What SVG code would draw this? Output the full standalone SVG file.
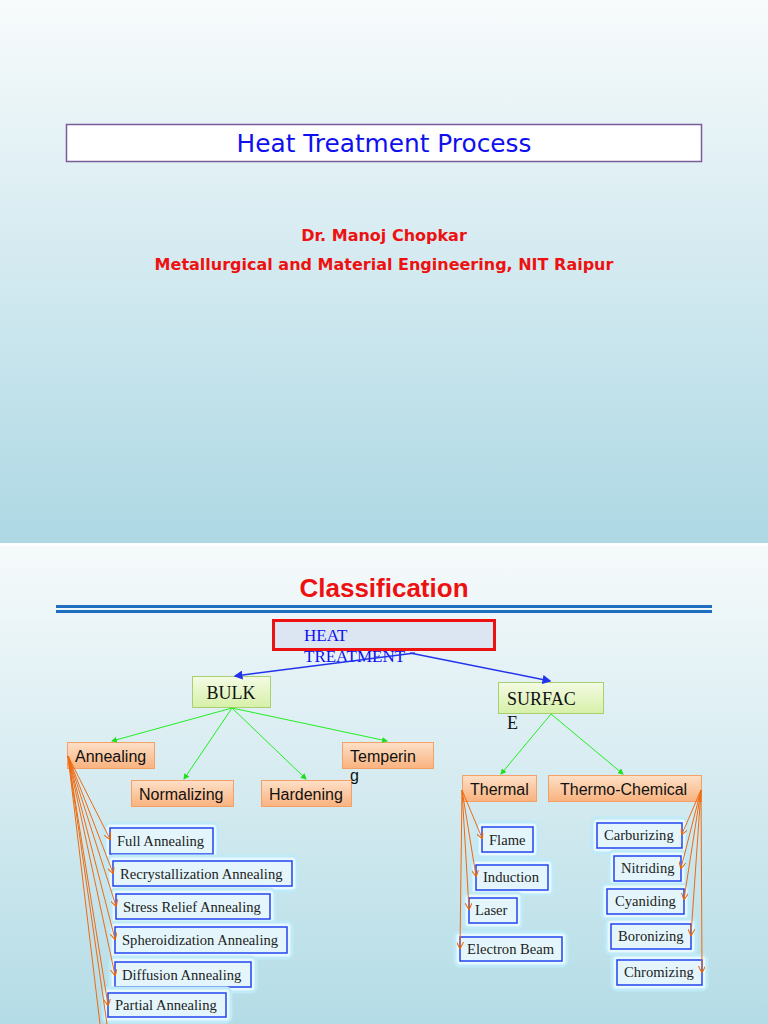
<svg xmlns="http://www.w3.org/2000/svg" width="768" height="1024" viewBox="0 0 768 1024">
<defs>
<linearGradient id="bg" x1="0" y1="0" x2="0" y2="1"><stop offset="0" stop-color="#f8fbfc"/><stop offset="1" stop-color="#add8e4"/></linearGradient>
<linearGradient id="bg2" x1="0" y1="0" x2="0" y2="1"><stop offset="0" stop-color="#f6fafb"/><stop offset="1" stop-color="#b4dce6"/></linearGradient>
<linearGradient id="org" x1="0" y1="0" x2="0" y2="1"><stop offset="0" stop-color="#fde0c8"/><stop offset="1" stop-color="#f9b27e"/></linearGradient>
<linearGradient id="grn" x1="0" y1="0" x2="0" y2="1"><stop offset="0" stop-color="#f4fbe4"/><stop offset="1" stop-color="#d6f0a8"/></linearGradient>
<marker id="ag" markerWidth="6" markerHeight="6" refX="5" refY="3" orient="auto"><path d="M0,0 L6,3 L0,6 z" fill="#22dd22"/></marker>
<marker id="ab" markerWidth="6" markerHeight="6" refX="5" refY="3" orient="auto"><path d="M0,0 L6,3 L0,6 z" fill="#2233ee"/></marker>
<marker id="ao" markerWidth="7" markerHeight="7" refX="6" refY="3.5" orient="auto"><path d="M0,0 L7,3.5 L0,7" fill="none" stroke="#ee6600" stroke-width="1"/></marker>
</defs>
<style>
.o{fill:url(#org);stroke:#f5a066;stroke-width:1}
.g{fill:url(#grn);stroke:#a8d070;stroke-width:1}
.bb{fill:#e4f6fc;stroke:#2244ee;stroke-width:1.5}
.glow{fill:#e8f8ff;stroke:#bfeaf8;stroke-width:3}
.ts{font-family:"Liberation Sans",Arial,sans-serif;font-size:16px;fill:#111}
.tr{font-family:"Liberation Serif","Times New Roman",serif;font-size:14.6px;fill:#222}
.gl{stroke:#22ee22;stroke-width:1;fill:none;marker-end:url(#ag)}
.ol{stroke:#ee6a10;stroke-width:1;fill:none;marker-end:url(#ao)}
</style>
<rect x="0" y="0" width="768" height="543" fill="url(#bg)"/>
<rect x="0" y="543" width="768" height="3" fill="#ffffff"/>
<rect x="0" y="546" width="768" height="478" fill="url(#bg2)"/>
<g id="title"><rect x="66.5" y="124.5" width="635" height="37" fill="#fff" stroke="#7a5c9a" stroke-width="1.5"/>
<text x="384" y="152" text-anchor="middle" font-family="'DejaVu Sans',sans-serif" font-size="24.8" fill="#1010ee">Heat Treatment Process</text></g>
<text x="384" y="241" text-anchor="middle" font-family="'DejaVu Sans',sans-serif" font-weight="bold" font-size="16" fill="#ee1111">Dr. Manoj Chopkar</text>
<text x="384" y="270" text-anchor="middle" font-family="'DejaVu Sans',sans-serif" font-weight="bold" font-size="16" fill="#ee1111">Metallurgical and Material Engineering, NIT Raipur</text>
<text x="384" y="597" text-anchor="middle" font-family="'Liberation Sans',Arial,sans-serif" font-weight="bold" font-size="26" fill="#ee1111">Classification</text>
<rect x="56" y="605" width="656" height="3" fill="#1f6fc0"/>
<rect x="56" y="610" width="656" height="3" fill="#1f6fc0"/>
<g id="heat"><rect x="273.5" y="620.5" width="221" height="29" fill="#dbe6f2" stroke="#ee1111" stroke-width="3"/>
<text x="304" y="641" font-family="'Liberation Serif',serif" font-size="17" fill="#1010ee">HEAT</text>
<text x="304" y="662" font-family="'Liberation Serif',serif" font-size="17" fill="#1010ee">TREATMENT</text></g>
<g id="bulk"><rect class="g" x="192.5" y="676.5" width="78" height="31"/><text x="231" y="699" text-anchor="middle" font-family="'Liberation Serif',serif" font-size="18" fill="#111">BULK</text></g>
<g id="surface"><rect class="g" x="498.5" y="682.5" width="105" height="31"/><text x="507" y="705" font-family="'Liberation Serif',serif" font-size="18" fill="#111">SURFAC</text><text x="507" y="729" font-family="'Liberation Serif',serif" font-size="18" fill="#111">E</text></g>
<g id="annealing"><rect class="o" x="67.5" y="742.5" width="87" height="26"/><text class="ts" x="75" y="762">Annealing</text></g>
<g id="normalizing"><rect class="o" x="131.5" y="780.5" width="102" height="26"/><text class="ts" x="139" y="800">Normalizing</text></g>
<g id="hardening"><rect class="o" x="261.5" y="780.5" width="90" height="26"/><text class="ts" x="269" y="800">Hardening</text></g>
<g id="tempering"><rect class="o" x="342.5" y="742.5" width="91" height="26"/><text class="ts" x="350" y="762">Temperin</text><text class="ts" x="350" y="781">g</text></g>
<g id="thermal"><rect class="o" x="462.5" y="775.5" width="74" height="26"/><text class="ts" x="470" y="795">Thermal</text></g>
<g id="thermochem"><rect class="o" x="548.5" y="775.5" width="153" height="26"/><text class="ts" x="560" y="795">Thermo-Chemical</text></g>
<g id="full"><rect class="glow" x="105" y="823" width="113" height="36" rx="5"/><rect class="bb" x="110" y="828" width="103" height="26"/><text class="tr" x="117" y="846">Full Annealing</text></g>
<g id="recry"><rect class="glow" x="108" y="856" width="189" height="35" rx="5"/><rect class="bb" x="113" y="861" width="179" height="25"/><text class="tr" x="120" y="879">Recrystallization Annealing</text></g>
<g id="stress"><rect class="glow" x="111" y="889" width="164" height="35" rx="5"/><rect class="bb" x="116" y="894" width="154" height="25"/><text class="tr" x="123" y="912">Stress Relief Annealing</text></g>
<g id="sphero"><rect class="glow" x="110" y="922" width="182" height="36" rx="5"/><rect class="bb" x="115" y="927" width="172" height="26"/><text class="tr" x="122" y="945">Spheroidization Annealing</text></g>
<g id="diff"><rect class="glow" x="110" y="957" width="146" height="35" rx="5"/><rect class="bb" x="115" y="962" width="136" height="25"/><text class="tr" x="122" y="980">Diffusion Annealing</text></g>
<g id="partial"><rect class="glow" x="103" y="988" width="128" height="34" rx="5"/><rect class="bb" x="108" y="993" width="118" height="24"/><text class="tr" x="115" y="1010">Partial Annealing</text></g>
<g id="flame"><rect class="glow" x="477" y="822" width="61" height="35" rx="5"/><rect class="bb" x="482" y="827" width="51" height="25"/><text class="tr" x="489" y="845">Flame</text></g>
<g id="induction"><rect class="glow" x="471" y="860" width="82" height="35" rx="5"/><rect class="bb" x="476" y="865" width="72" height="25"/><text class="tr" x="483" y="882">Induction</text></g>
<g id="laser"><rect class="glow" x="464" y="893" width="58" height="35" rx="5"/><rect class="bb" x="469" y="898" width="48" height="25"/><text class="tr" x="475" y="915">Laser</text></g>
<g id="eb"><rect class="glow" x="455" y="932" width="112" height="34" rx="5"/><rect class="bb" x="460" y="937" width="102" height="24"/><text class="tr" x="467" y="954">Electron Beam</text></g>
<g id="carb"><rect class="glow" x="592" y="818" width="95" height="35" rx="5"/><rect class="bb" x="597" y="823" width="85" height="25"/><text class="tr" x="604" y="840">Carburizing</text></g>
<g id="nitr"><rect class="glow" x="609" y="851" width="77" height="35" rx="5"/><rect class="bb" x="614" y="856" width="67" height="25"/><text class="tr" x="621" y="873">Nitriding</text></g>
<g id="cyan"><rect class="glow" x="602" y="884" width="87" height="35" rx="5"/><rect class="bb" x="607" y="889" width="77" height="25"/><text class="tr" x="615" y="906">Cyaniding</text></g>
<g id="boron"><rect class="glow" x="606" y="919" width="90" height="35" rx="5"/><rect class="bb" x="611" y="924" width="80" height="25"/><text class="tr" x="618" y="941">Boronizing</text></g>
<g id="chrom"><rect class="glow" x="612" y="955" width="95" height="35" rx="5"/><rect class="bb" x="617" y="960" width="85" height="25"/><text class="tr" x="624" y="977">Chromizing</text></g>
<g id="connectors">
<line x1="415" y1="653" x2="235" y2="676" stroke="#2233ee" stroke-width="1.5" marker-end="url(#ab)"/>
<line x1="410" y1="653" x2="550" y2="681" stroke="#2233ee" stroke-width="1.5" marker-end="url(#ab)"/>
<line class="gl" x1="232" y1="708" x2="112" y2="741"/>
<line class="gl" x1="232" y1="708" x2="184" y2="779"/>
<line class="gl" x1="232" y1="708" x2="306" y2="779"/>
<line class="gl" x1="232" y1="708" x2="387" y2="741"/>
<line class="gl" x1="551" y1="714" x2="501" y2="774"/>
<line class="gl" x1="551" y1="714" x2="623" y2="774"/>
<line class="ol" x1="68" y1="756" x2="110" y2="839"/>
<line class="ol" x1="68" y1="756" x2="113" y2="873"/>
<line class="ol" x1="68" y1="756" x2="116" y2="906"/>
<line class="ol" x1="68" y1="756" x2="115" y2="939"/>
<line class="ol" x1="68" y1="756" x2="115" y2="975"/>
<line class="ol" x1="68" y1="756" x2="108" y2="1005"/>
<line x1="68" y1="756" x2="100" y2="1024" stroke="#ee6a10"/>
<line x1="68" y1="756" x2="107" y2="1024" stroke="#ee6a10"/>
<line class="ol" x1="462" y1="790" x2="482" y2="838"/>
<line class="ol" x1="462" y1="790" x2="476" y2="876"/>
<line class="ol" x1="462" y1="790" x2="469" y2="909"/>
<line class="ol" x1="462" y1="790" x2="460" y2="948"/>
<line class="ol" x1="701" y1="790" x2="682" y2="834"/>
<line class="ol" x1="701" y1="790" x2="681" y2="868"/>
<line class="ol" x1="701" y1="790" x2="684" y2="899"/>
<line class="ol" x1="701" y1="790" x2="691" y2="935"/>
<line class="ol" x1="701" y1="790" x2="702" y2="972"/>
</g>
</svg>
